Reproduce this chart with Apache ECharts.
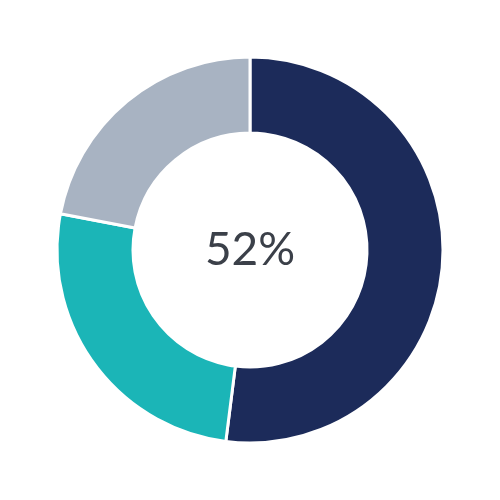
<!DOCTYPE html>
<html>
<head>
<meta charset="utf-8">
<script src="https://cdn.jsdelivr.net/npm/echarts@6/dist/echarts.min.js"></script>
<style>
  html, body { margin: 0; padding: 0; background: #fff; }
  #chart { width: 500px; height: 500px; }
</style>
</head>
<body>
<div id="chart"></div>
<script>
// data
var names = ['A', 'B', 'C'];
var values = [52, 26, 22];
var colors = ['#1c2b5a', '#1bb5b7', '#a8b3c2'];
var centerText = '52%';

var chart = echarts.init(document.getElementById('chart'));

var data = names.map(function (n, i) {
    return { name: n, value: values[i], itemStyle: { color: colors[i] } };
});

var option = {
    animation: false,
    title: {
        text: centerText,
        left: 'center',
        top: 'middle',
        textStyle: {
            fontFamily: 'Lato',
            fontSize: 46,
            fontWeight: 'normal',
            color: '#3b4049'
        }
    },
    series: [{
        type: 'pie',
        radius: [117, 193],
        center: [250, 250],
        startAngle: 90,
        clockwise: true,
        label: { show: false },
        labelLine: { show: false },
        itemStyle: { borderColor: '#fff', borderWidth: 3 },
        emphasis: { disabled: true },
        data: data
    }]
};

chart.setOption(option);
</script>
</body>
</html>
